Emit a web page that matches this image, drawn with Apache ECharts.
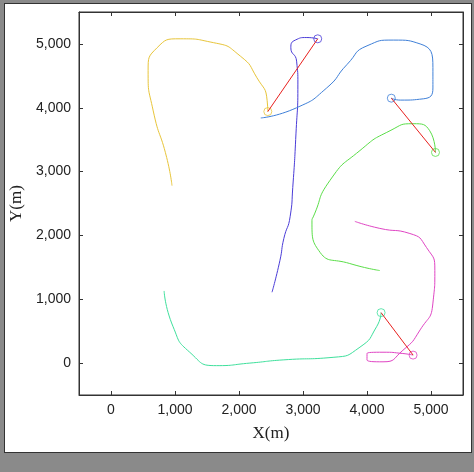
<!DOCTYPE html><html><head><meta charset="utf-8">
<script src="https://cdn.jsdelivr.net/npm/echarts@6/dist/echarts.min.js"></script>
<style>html,body{margin:0;background:#8a8a8a;}#frame{position:absolute;left:4px;top:3px;width:466px;height:448px;background:#fff;border:1px solid #333;}#c{position:absolute;left:0;top:0;width:474px;height:472px;}</style>
</head><body><div id="frame"></div><div id="c"></div><script>
const xTicks=[0,1000,2000,3000,4000,5000];
const yTicks=[0,1000,2000,3000,4000,5000];
const yellow=[[953,2780],[870,3220],[660,3950],[580,4580],[720,4940],[1080,5080],[1600,5020],[2020,4810],[2280,4470],[2440,4110],[2450,3940]];
const violet=[[2516,1110],[2640,1610],[2700,1950],[2800,2300],[2840,2750],[2890,3590],[2920,4370],[2900,4730],[2810,4940],[2880,5060],[3060,5100],[3230,5080]];
const blue=[[2340,3840],[2900,4000],[3370,4310],[3690,4680],[4000,4970],[4410,5060],[4830,5000],[5030,4630],[5030,4310],[4880,4140],[4520,4120],[4380,4150]];
const green=[[4200,1450],[3730,1560],[3270,1730],[3140,2230],[3160,2290],[3420,2860],[3890,3330],[4360,3640],[4720,3750],[4980,3640],[5070,3300]];
const magenta=[[3810,2220],[4200,2110],[4670,2030],[4930,1810],[5060,1450],[5030,940],[4830,520],[4560,200],[4250,20],[4000,50],[4000,150],[4250,170],[4560,150],[4720,125]];
const teal=[[830,1130],[970,570],[1230,170],[1650,-40],[2170,0],[2690,50],[3470,90],[3890,250],[4150,570],[4220,790]];
const links=[[[2450,3940],[3230,5080]],[[4380,4150],[5070,3300]],[[4220,790],[4720,125]]];
const tracks=[[yellow,'#e8c53a'],[violet,'#4a3cd8'],[blue,'#3f80d8'],[green,'#5ade48'],[magenta,'#e045c4'],[teal,'#3ee09c']];
const series=[];
tracks.forEach(([d,c])=>{
 series.push({type:'line',data:d,smooth:0.6,showSymbol:false,lineStyle:{color:c,width:1},silent:true});
 series.push({type:'scatter',data:[d[d.length-1]],symbol:'circle',symbolSize:8,itemStyle:{color:'transparent',borderColor:c,borderWidth:1}});
});
links.forEach(l=>series.push({type:'line',data:l,showSymbol:false,lineStyle:{color:'#e8201e',width:1}}));
const ch=echarts.init(document.getElementById('c'));
function mk(name,gap,ticks,pos,show){return {type:'value',position:pos,min:-500,max:5500,interval:500,name:show?name:'',nameGap:gap,nameLocation:'middle',
 nameTextStyle:{fontFamily:'Liberation Serif, serif',fontSize:17,color:'#222'},splitLine:{show:false},
 axisLine:{onZero:false,lineStyle:{color:'#333'}},
 axisTick:{inside:true,length:4,customValues:ticks,lineStyle:{color:'#333'}},
 axisLabel:{show:show,customValues:ticks,color:'#222',fontSize:14,fontFamily:'Liberation Sans, Arial'}};}
ch.setOption({animation:false,backgroundColor:'transparent',
grid:{left:79,right:11,top:12,bottom:77,show:true,borderColor:'#333',borderWidth:1,backgroundColor:'#fff'},
xAxis:[mk('X(m)',30,xTicks,'bottom',true),mk('',0,xTicks,'top',false)],
yAxis:[mk('Y(m)',52,yTicks,'left',true),mk('',0,yTicks,'right',false)],
series});
</script></body></html>
